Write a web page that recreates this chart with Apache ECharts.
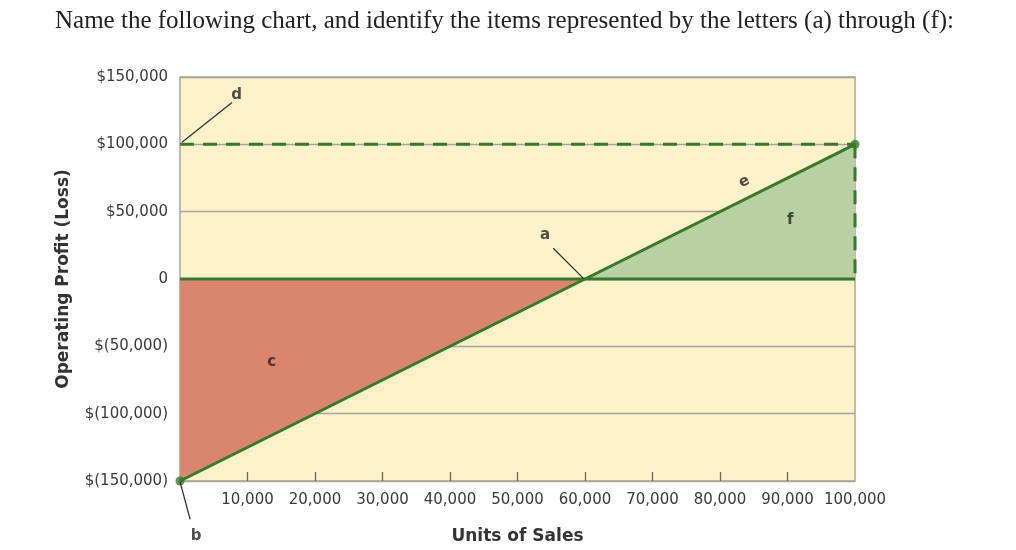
<!DOCTYPE html>
<html>
<head>
<meta charset="utf-8">
<script src="https://cdn.jsdelivr.net/npm/echarts@6/dist/echarts.min.js"></script>
<style>
  html, body { margin: 0; padding: 0; background: #ffffff; }
  #chart { width: 1016px; height: 550px; }
</style>
</head>
<body>
<div id="chart"></div>
<script>
// ---- data ----
const titleText = 'Name the following chart, and identify the items represented by the letters (a) through (f):';
const xAxisName = 'Units of Sales';
const yAxisName = 'Operating Profit (Loss)';
const units = [0, 60000, 100000];            // units of sales: start, break-even, max
const operatingProfit = [-150000, 0, 100000]; // operating profit (loss) at those units
const xTickValues = [10000, 20000, 30000, 40000, 50000, 60000, 70000, 80000, 90000];
const letters = ['a', 'b', 'c', 'd', 'e', 'f'];
// label anchor points in data units
const letterAt = [[54100, 32500], [2400, -191000], [13600, -62000], [8400, 136500], [83600, 72300], [90400, 43500]];
// leader lines (from letter to item) in data units
const leaderA = [[55300, 22800], [59800, 300]];
const leaderB = [[0, -150500], [1500, -178500]];
const leaderD = [[300, 101500], [7700, 131000]];

function money(v) {
  const s = Math.abs(v).toLocaleString('en-US');
  if (v === 0) return '0';
  return v > 0 ? '$' + s : '$(' + s + ')';
}

const GREEN = '#357a2c';
const FONT = 'DejaVu Sans';

const chart = echarts.init(document.getElementById('chart'), null, { renderer: 'canvas' });

const lossData = [[units[0], operatingProfit[0]], [units[1], operatingProfit[1]]];
const profitData = [[units[1], operatingProfit[1]], [units[2], operatingProfit[2]]];

const labelSeries = letters.map(function (l, i) {
  return {
    type: 'scatter', z: 10, clip: false, silent: true,
    symbolSize: 1, itemStyle: { color: 'rgba(0,0,0,0)' },
    data: [letterAt[i]],
    label: {
      show: true, position: 'inside', formatter: l,
      fontFamily: FONT, fontWeight: 'bold', fontSize: 15, color: '#222',
      rotate: l === 'e' ? 27 : 0
    }
  };
});

function leader(d) {
  return {
    type: 'line', z: 9, clip: false, silent: true, symbol: 'none',
    lineStyle: { color: '#333', width: 1.3 },
    data: d
  };
}

chart.setOption({
  animation: false,
  title: {
    text: titleText, left: 50, top: 4,
    textStyle: { fontFamily: 'Liberation Serif', fontWeight: 'normal', fontSize: 25, color: '#222' }
  },
  grid: {
    left: 180, right: 161, top: 77, bottom: 66,
    show: true, backgroundColor: '#fdf1c9', borderColor: '#aaa59a', borderWidth: 1.5
  },
  xAxis: {
    type: 'value', min: 0, max: 100000, interval: 10000,
    name: xAxisName, nameLocation: 'middle', nameGap: 47,
    nameTextStyle: { fontFamily: FONT, fontWeight: 'bold', fontSize: 17, color: '#333' },
    axisLine: { show: false, onZero: false },
    axisTick: { show: true, inside: true, length: 9, customValues: xTickValues, lineStyle: { color: '#666', width: 1.3 } },
    axisLabel: {
      margin: 12, fontFamily: FONT, fontSize: 15, color: '#3a3a3a',
      formatter: function (v) { return v === 0 ? '' : v.toLocaleString('en-US'); }
    },
    splitLine: { show: false }
  },
  yAxis: {
    type: 'value', min: -150000, max: 150000, interval: 50000,
    name: yAxisName, nameLocation: 'middle', nameGap: 108, nameRotate: 90,
    nameTextStyle: { fontFamily: FONT, fontWeight: 'bold', fontSize: 17, color: '#333' },
    axisLine: { show: false },
    axisTick: { show: false },
    axisLabel: { margin: 12, fontFamily: FONT, fontSize: 15, color: '#3a3a3a', formatter: money },
    splitLine: { show: true, lineStyle: { color: '#a9a498', width: 1.3 } }
  },
  series: [
    {
      name: 'loss area', type: 'line', z: 2, symbol: 'none', data: lossData,
      lineStyle: { color: GREEN, width: 3 },
      areaStyle: { color: '#da866e', opacity: 1, origin: 0 }
    },
    {
      name: 'profit area', type: 'line', z: 2, symbol: 'none', data: profitData,
      lineStyle: { color: GREEN, width: 3 },
      areaStyle: { color: '#b9d1a2', opacity: 1, origin: 0 }
    },
    {
      name: 'zero', type: 'line', z: 3, symbol: 'none',
      data: [[units[0], 0], [units[2], 0]],
      lineStyle: { color: GREEN, width: 3 }
    },
    {
      name: 'max profit', type: 'line', z: 3, symbol: 'none',
      data: [[units[0], operatingProfit[2]], [units[2], operatingProfit[2]]],
      lineStyle: { color: GREEN, width: 3, type: [14, 9] }
    },
    {
      name: 'max profit drop', type: 'line', z: 3, symbol: 'none',
      data: [[units[2], operatingProfit[2]], [units[2], 0]],
      lineStyle: { color: GREEN, width: 3, type: [14, 9] }
    },
    {
      name: 'ends', type: 'scatter', z: 5, clip: false, symbolSize: 9,
      itemStyle: { color: GREEN },
      data: [[units[0], operatingProfit[0]], [units[2], operatingProfit[2]]]
    },
    leader(leaderA), leader(leaderB), leader(leaderD)
  ].concat(labelSeries)
});
</script>
</body>
</html>
